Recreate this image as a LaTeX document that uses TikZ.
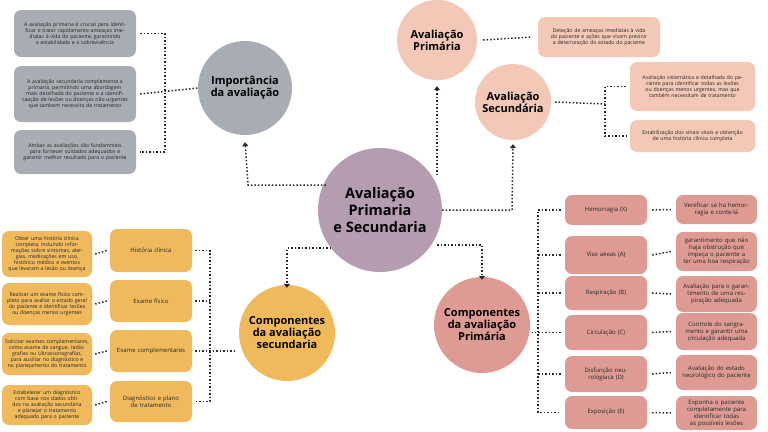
\documentclass[tikz,border=0pt]{standalone}
\usepackage{fontspec}
\setmainfont{Open Sans}
\usetikzlibrary{arrows.meta,positioning}
\definecolor{gr}{RGB}{167,173,178}
\definecolor{pk}{RGB}{243,200,182}
\definecolor{pu}{RGB}{180,157,177}
\definecolor{og}{RGB}{240,186,92}
\definecolor{rd}{RGB}{222,155,148}
\tikzset{
 big/.style={circle,inner sep=0pt,font=\bfseries\fontsize{11}{12}\selectfont,align=center,text=black},
 bx/.style={rounded corners=7pt,inner sep=1pt,align=center,font=\fontsize{5.2}{6}\selectfont,text=black!85},
 mb/.style={bx,font=\fontsize{6}{7}\selectfont},
 dl/.style={line width=1.5pt,dotted,black!85},
 ar/.style={dl,-{Triangle[width=6pt,length=4pt]}},
}
\begin{document}
\begin{tikzpicture}[x=1pt,y=-1pt]
\useasboundingbox (0,0) rectangle (768,431);
\def\B#1#2#3#4#5#6#7#8{\node[#1,fill=#2,minimum width=#5-#3,minimum height=#6-#4,text width=#5-#3-6] (#7) at ({(#3+#5)/2},{(#4+#6)/2}) {#8};}
\coordinate (xb) at (210,0);
\coordinate (xr) at (538,0);
% center
\node[big,fill=pu,minimum size=124,font=\bfseries\fontsize{14.5}{17}\selectfont] (c) at (380,210) {Avaliação\\Primaria\\e Secundaria};
\node[big,fill=gr,minimum size=94] (imp) at (245,88) {Importância\\da avaliação};
\node[big,fill=pk,minimum size=80] (ap) at (437,40) {Avaliação\\Primária};
\node[big,fill=pk,minimum size=76] (as) at (513,102) {Avaliação\\Secundária};
\node[big,fill=og,minimum size=96] (cs) at (287,333) {Componentes\\da avaliação\\secundaria};
\node[big,fill=rd,minimum size=96] (cp) at (482,325) {Componentes\\da avaliação\\Primária};
% gray
\B{bx}{gr}{14}{10}{136}{57}{g1}{A avaliação primaria é crucial para identificar e tratar rapidamente ameaças imediatas à vida do paciente, garantindo a estabilidade e a sobrevivência}
\B{bx}{gr}{14}{66}{136}{122}{g2}{A avaliação secundaria complementa a primaria, permitindo uma abordagem mais detalhada do paciente e a identificaação de lesões ou doenças não urgentes que tambem necessita de tratamento}
\B{bx}{gr}{14}{130}{136}{174}{g3}{Ambas as avaliações são fundamntais para fornecer cuidados adequados e garantir melhor resultado para o paciente}
\draw[dl] ([xshift=4]g1.east) -| (165,152) -- ([xshift=4]g3.east);
\draw[dl] ([xshift=4]g2.east) -- (imp.west);
% pink
\B{bx}{pk}{538}{17}{660}{57}{p1}{Deteção de ameaças imediatas à vida do paciente e ações que visam previnir a deterioração do estado do paciente}
\draw[dl] ([xshift=6]ap.east) -- ([xshift=-6]p1.west);
\B{bx}{pk}{630}{62}{755}{111}{s1}{Avaliação sistemática e detalhada do paciente para identificar todas as lesões ou doenças menos urgentes, mas que também necessitam de tratamento}
\B{bx}{pk}{630}{120}{755}{152}{s2}{Estabilização dos sinais vitais e obtenção de uma história clínica completa}
\draw[dl] ([xshift=-4]s1.west) -| (605,136) -- ([xshift=-4]s2.west);
\draw[dl] ([xshift=4]as.east) -- (605,104);
% arrows from center
\coordinate (ci) at (248,185);
\draw[ar] ([xshift=8]c.west|-ci) -- (ci) -- ([yshift=-7]imp.south);
\coordinate (cq) at (437,175);
\draw[ar] (cq) -- ([yshift=-6]ap.south);
\coordinate (cr) at (512,210);
\draw[ar] (c.east|-cr) -- (cr) -- ([yshift=-4]as.south);
\coordinate (co) at (287,248);
\draw[ar] (331,248) -- (co) -- ([yshift=-3]cs.north);
\coordinate (cd) at (482,245);
\draw[ar] (437,245) -- (cd) -- ([yshift=-3]cp.north);
% orange
\B{mb}{og}{110}{229}{192}{272}{o1}{História clínica}
\B{mb}{og}{110}{280}{192}{322}{o2}{Exame físico}
\B{mb}{og}{110}{330}{192}{372}{o3}{Exame complementares}
\B{mb}{og}{110}{381}{192}{422}{o4}{Diagnóstico e plano de tratamento}
\B{bx}{og}{2}{231}{92}{277}{l1}{Obter uma história clínica completa, incluindo informações sobre sintomas, alergias, medicações em uso, histórico médico e eventos que levaram a lesão ou doença}
\B{bx}{og}{2}{283}{92}{325}{l2}{Realizar um exame físico completo para avaliar o estado geral do paciente e identificar lesões ou doenças menos urgentes}
\B{bx}{og}{2}{333}{92}{375}{l3}{Solicitar exames complementares, como exame de sangue, radiografias ou Ultrassonografias, para auxiliar no diagnóstico e no planejamento do tratamento}
\B{bx}{og}{2}{385}{92}{425}{l4}{Estabelecer um diagnóstico com base nos dados obtidos na avaliação secundária e planejar o tratamento adequado para o paciente}
\foreach \i in {1,...,4}{\draw[dl] ([xshift=3]l\i.east) -- ([xshift=-3]o\i.west);}
\draw[dl] ([xshift=3]o1.east) -| (xb|-o4.east) -- ([xshift=3]o4.east);
\draw[dl] ([xshift=3]o2.east) -- (xb|-o2.east);
\draw[dl] ([xshift=3]o3.east) -- ([xshift=-3]cs.west|-o3.east);
% red
\B{mb}{rd}{565}{195}{647}{225}{r1}{Hemorragia (X)}
\B{mb}{rd}{565}{236}{647}{274}{r2}{Vias aéeas (A)}
\B{mb}{rd}{565}{276}{647}{310}{r3}{Respiração (B)}
\B{mb}{rd}{565}{315}{647}{350}{r4}{Circulação (C)}
\B{mb}{rd}{565}{356}{647}{392}{r5}{Disfunção neurológiaca (D)}
\B{mb}{rd}{565}{396}{647}{429}{r6}{Exposição (E)}
\B{mb}{rd}{676}{195}{757}{224}{q1}{Vereficar se ha hemorragia e conte-lá}
\B{mb}{rd}{676}{232}{757}{271}{q2}{garantimento que não haja obstrução que impeça o paciente a ter uma boa respiração}
\B{mb}{rd}{676}{276}{757}{312}{q3}{Avaliação para o garantimento de uma respiração adequada}
\B{mb}{rd}{676}{313}{757}{350}{q4}{Controle do sangramento e garantir uma circulação adequada}
\B{mb}{rd}{676}{355}{757}{390}{q5}{Avaliação do estado neurológico do paciente}
\B{mb}{rd}{676}{396}{757}{430}{q6}{Exponha o paciente completamente para identificar todas as possíveis lesões}
\foreach \i in {1,...,6}{\draw[dl] ([xshift=5]r\i.east) -- ([xshift=-5]q\i.west);}
\draw[dl] ([xshift=-4]r1.west) -| (xr|-r6.west) -- ([xshift=-4]r6.west);
\foreach \i in {2,3,5}{\draw[dl] ([xshift=-4]r\i.west) -- (xr|-r\i.west);}
\draw[dl] ([xshift=-4]r4.west) -- ([xshift=2]cp.east|-r4.west);
\end{tikzpicture}
\end{document}
